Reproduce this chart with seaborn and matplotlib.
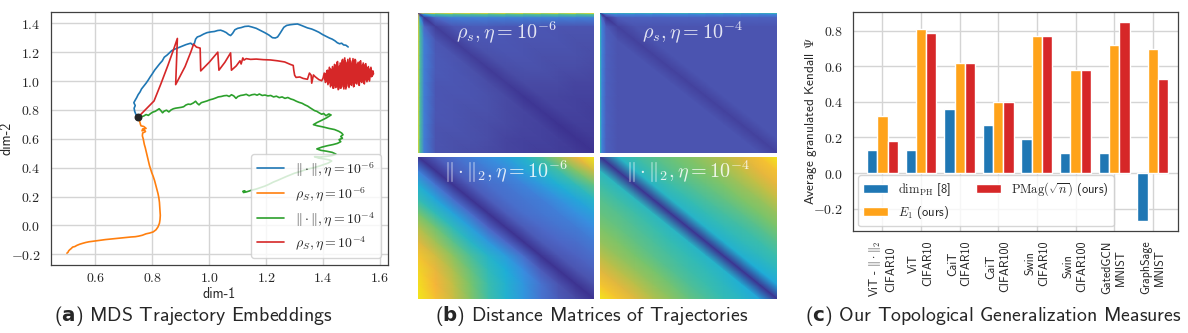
import numpy as np
import pandas as pd
import matplotlib
matplotlib.use("Agg")
import matplotlib.pyplot as plt
import seaborn as sns
from matplotlib.colors import LinearSegmentedColormap
from matplotlib.ticker import FuncFormatter, MultipleLocator

# ---------------------------------------------------------------
# (a) MDS embeddings of four optimisation trajectories
# ---------------------------------------------------------------
start_xy = (0.750, 0.750)

blue_path = [
    (0.750, 0.750), (0.742, 0.770), (0.738, 0.790), (0.736, 0.812), (0.740, 0.830), (0.735, 0.850),
    (0.740, 0.868), (0.745, 0.885), (0.750, 0.905), (0.757, 0.925), (0.762, 0.945), (0.770, 0.965),
    (0.778, 0.985), (0.785, 1.005), (0.793, 1.030), (0.800, 1.050), (0.808, 1.075), (0.816, 1.095),
    (0.826, 1.120), (0.835, 1.140), (0.842, 1.165), (0.852, 1.180), (0.860, 1.195), (0.868, 1.210),
    (0.878, 1.220), (0.888, 1.228), (0.898, 1.236), (0.908, 1.244), (0.918, 1.252), (0.928, 1.258),
    (0.935, 1.262), (0.942, 1.250), (0.948, 1.262), (0.952, 1.290), (0.958, 1.305), (0.968, 1.312),
    (0.980, 1.325), (0.992, 1.335), (1.005, 1.340), (1.018, 1.343), (1.030, 1.350), (1.040, 1.352),
    (1.050, 1.345), (1.060, 1.335), (1.068, 1.322), (1.075, 1.315), (1.082, 1.330), (1.090, 1.355),
    (1.100, 1.365), (1.112, 1.370), (1.125, 1.378), (1.138, 1.380), (1.150, 1.374), (1.165, 1.365),
    (1.180, 1.350), (1.195, 1.335), (1.210, 1.318), (1.222, 1.300), (1.232, 1.298), (1.240, 1.305),
    (1.248, 1.328), (1.255, 1.350), (1.262, 1.372), (1.272, 1.385), (1.285, 1.390), (1.298, 1.393),
    (1.310, 1.395), (1.320, 1.388), (1.330, 1.380), (1.345, 1.368), (1.360, 1.360), (1.372, 1.350),
    (1.385, 1.338), (1.398, 1.322), (1.410, 1.310), (1.422, 1.298), (1.432, 1.290), (1.442, 1.278),
    (1.450, 1.265), (1.458, 1.258), (1.465, 1.262), (1.472, 1.250), (1.480, 1.248), (1.488, 1.236),
]

orange_path = [
    (0.750, 0.750), (0.752, 0.735), (0.756, 0.718), (0.758, 0.702), (0.760, 0.690), (0.770, 0.685),
    (0.778, 0.672), (0.766, 0.668), (0.764, 0.655), (0.772, 0.662), (0.776, 0.650), (0.766, 0.640),
    (0.765, 0.620), (0.768, 0.600), (0.770, 0.580), (0.772, 0.560), (0.775, 0.540), (0.778, 0.515),
    (0.781, 0.490), (0.784, 0.465), (0.787, 0.440), (0.790, 0.415), (0.794, 0.390), (0.798, 0.365),
    (0.803, 0.340), (0.808, 0.310), (0.812, 0.280), (0.816, 0.250), (0.820, 0.220), (0.823, 0.190),
    (0.825, 0.160), (0.826, 0.130), (0.827, 0.100), (0.828, 0.070), (0.827, 0.040), (0.825, 0.015),
    (0.820, -0.010), (0.813, -0.030), (0.803, -0.045), (0.790, -0.053), (0.778, -0.058), (0.765, -0.068),
    (0.752, -0.074), (0.740, -0.078), (0.725, -0.080), (0.710, -0.083), (0.695, -0.086), (0.680, -0.089),
    (0.665, -0.092), (0.650, -0.095), (0.635, -0.098), (0.620, -0.102), (0.605, -0.106), (0.590, -0.110),
    (0.578, -0.113), (0.566, -0.118), (0.555, -0.124), (0.545, -0.130), (0.535, -0.138), (0.528, -0.146),
    (0.520, -0.150), (0.515, -0.160), (0.510, -0.168), (0.506, -0.176), (0.504, -0.185), (0.500, -0.192),
]

green_path = [
    (0.750, 0.750), (0.760, 0.752), (0.770, 0.758), (0.778, 0.768), (0.786, 0.762), (0.794, 0.775),
    (0.802, 0.785), (0.810, 0.790), (0.818, 0.800), (0.824, 0.808), (0.830, 0.795), (0.836, 0.780),
    (0.842, 0.792), (0.850, 0.798), (0.858, 0.786), (0.866, 0.800), (0.874, 0.808), (0.882, 0.812),
    (0.892, 0.815), (0.902, 0.818), (0.910, 0.822), (0.918, 0.834), (0.926, 0.840), (0.934, 0.838),
    (0.944, 0.848), (0.952, 0.860), (0.958, 0.845), (0.964, 0.835), (0.972, 0.850), (0.982, 0.856),
    (0.992, 0.862), (1.002, 0.870), (1.012, 0.875), (1.022, 0.882), (1.032, 0.890), (1.042, 0.893),
    (1.052, 0.898), (1.062, 0.900), (1.070, 0.893), (1.078, 0.905), (1.086, 0.897), (1.094, 0.880),
    (1.100, 0.892), (1.110, 0.900), (1.120, 0.903), (1.130, 0.908), (1.140, 0.898), (1.150, 0.905),
    (1.160, 0.908), (1.168, 0.902), (1.176, 0.910), (1.186, 0.900), (1.196, 0.903), (1.206, 0.897),
    (1.216, 0.900), (1.226, 0.890), (1.236, 0.895), (1.246, 0.885), (1.256, 0.890), (1.266, 0.880),
    (1.276, 0.886), (1.286, 0.876), (1.296, 0.870), (1.306, 0.860), (1.316, 0.852), (1.326, 0.846),
    (1.336, 0.835), (1.346, 0.826), (1.354, 0.815), (1.362, 0.805), (1.370, 0.795), (1.378, 0.790),
    (1.386, 0.780), (1.395, 0.770), (1.402, 0.775), (1.410, 0.760), (1.420, 0.772), (1.428, 0.765),
    (1.412, 0.745), (1.395, 0.728), (1.378, 0.712), (1.366, 0.698), (1.380, 0.690), (1.400, 0.682),
    (1.420, 0.672), (1.440, 0.664), (1.455, 0.652), (1.465, 0.640), (1.470, 0.628), (1.462, 0.616),
    (1.468, 0.604), (1.456, 0.594), (1.462, 0.580), (1.450, 0.568), (1.435, 0.560), (1.415, 0.552),
    (1.395, 0.542), (1.378, 0.530), (1.392, 0.520), (1.412, 0.514), (1.432, 0.506), (1.445, 0.494),
    (1.432, 0.484), (1.410, 0.478), (1.390, 0.474), (1.370, 0.476), (1.385, 0.466), (1.405, 0.460),
    (1.422, 0.454), (1.430, 0.446), (1.418, 0.432), (1.400, 0.420), (1.385, 0.410), (1.368, 0.400),
    (1.350, 0.392), (1.335, 0.384), (1.318, 0.372), (1.300, 0.362), (1.285, 0.350), (1.270, 0.338),
    (1.255, 0.325), (1.240, 0.312), (1.225, 0.300), (1.210, 0.285), (1.195, 0.272), (1.180, 0.262),
    (1.165, 0.252), (1.150, 0.245), (1.140, 0.238), (1.130, 0.232), (1.120, 0.228), (1.125, 0.240),
    (1.118, 0.236),
]

red_path = [
    # climb out of the initial point with large oscillating jumps
    (0.750, 0.750), (0.770, 0.790), (0.790, 0.830), (0.806, 0.862), (0.830, 0.980), (0.855, 1.110),
    (0.875, 1.220), (0.888, 1.295), (0.882, 0.975), (0.915, 1.100), (0.935, 1.200), (0.945, 1.255),
    (0.955, 1.235), (0.968, 1.228), (0.970, 1.070), (1.000, 1.130), (1.030, 1.200), (1.034, 1.075),
    (1.055, 1.130), (1.075, 1.195), (1.078, 1.075), (1.095, 1.105), (1.108, 1.140), (1.112, 1.118),
    (1.118, 1.160), (1.122, 1.145), (1.130, 1.155), (1.145, 1.150), (1.165, 1.152), (1.190, 1.148),
    (1.215, 1.146), (1.240, 1.140), (1.265, 1.132), (1.285, 1.115), (1.295, 1.108), (1.297, 1.075),
    (1.300, 1.040), (1.305, 1.025), (1.318, 1.028), (1.330, 1.018), (1.345, 1.012), (1.352, 1.055),
    (1.358, 1.040), (1.360, 0.985), (1.366, 1.042), (1.372, 1.030), (1.385, 1.010), (1.395, 1.002),
    # oscillation around the final basin
    (1.400, 1.020), (1.404, 1.055), (1.408, 0.990), (1.413, 1.070), (1.417, 0.975), (1.422, 1.095),
    (1.426, 0.960), (1.431, 1.080), (1.435, 0.950), (1.440, 1.115), (1.444, 0.955), (1.449, 1.130),
    (1.453, 0.940), (1.458, 1.105), (1.462, 0.950), (1.467, 1.145), (1.471, 0.960), (1.476, 1.160),
    (1.480, 0.945), (1.485, 1.130), (1.489, 0.965), (1.494, 1.158), (1.498, 0.975), (1.503, 1.140),
    (1.507, 0.960), (1.512, 1.150), (1.516, 0.985), (1.521, 1.120), (1.525, 0.975), (1.530, 1.135),
    (1.534, 0.995), (1.539, 1.110), (1.543, 0.985), (1.548, 1.115), (1.552, 1.005), (1.557, 1.090),
    (1.561, 1.010), (1.566, 1.085), (1.570, 1.030), (1.575, 1.070), (1.577, 1.050),
    (1.572, 1.035), (1.568, 1.095), (1.563, 1.000), (1.559, 1.100), (1.554, 0.995), (1.550, 1.120),
    (1.545, 0.980), (1.541, 1.125), (1.536, 0.990), (1.532, 1.140), (1.527, 0.970), (1.523, 1.130),
    (1.518, 0.980), (1.514, 1.145), (1.509, 0.965), (1.505, 1.155), (1.500, 0.970), (1.496, 1.135),
    (1.491, 0.955), (1.487, 1.150), (1.482, 0.960), (1.478, 1.140), (1.473, 0.945), (1.469, 1.150),
    (1.464, 0.955), (1.460, 1.125), (1.455, 0.945), (1.451, 1.135), (1.446, 0.960), (1.442, 1.110),
    (1.437, 0.950), (1.433, 1.100), (1.428, 0.970), (1.424, 1.085), (1.419, 0.985), (1.415, 1.075),
    (1.410, 0.995), (1.406, 1.050),
    (1.415, 1.010), (1.425, 1.060), (1.434, 0.990), (1.444, 1.090), (1.452, 0.985), (1.461, 1.100),
    (1.470, 0.990), (1.479, 1.110), (1.488, 1.000), (1.497, 1.105), (1.506, 1.010), (1.515, 1.100),
    (1.524, 1.015), (1.533, 1.090), (1.542, 1.020), (1.551, 1.080), (1.560, 1.030), (1.568, 1.060),
    (1.555, 1.045),
]

traj_labels = [r"$\|\cdot\|, \eta = 10^{-6}$", r"$\rho_S, \eta = 10^{-6}$",
               r"$\|\cdot\|, \eta = 10^{-4}$", r"$\rho_S, \eta = 10^{-4}$"]
traj_colors = ["#1f77b4", "#ff7f0e", "#2ca02c", "#d62728"]

# ---------------------------------------------------------------
# (b) distance matrices (normalised levels sampled at the given steps)
# ---------------------------------------------------------------
pos_rho = [0.0, 0.012, 0.035, 0.1, 0.2, 0.3, 0.4, 0.5, 0.6, 0.7, 0.8, 0.9, 1.0]
pos_l2 = [0.0, 0.1, 0.2, 0.3, 0.4, 0.5, 0.6, 0.7, 0.8, 0.9, 1.0]

rho_e6 = [
    [0.00, 0.80, 0.90, 0.94, 0.95, 0.95, 0.95, 0.96, 0.96, 0.96, 0.97, 0.97, 0.97],
    [0.80, 0.00, 0.28, 0.48, 0.50, 0.50, 0.50, 0.50, 0.50, 0.50, 0.50, 0.50, 0.50],
    [0.90, 0.28, 0.00, 0.16, 0.21, 0.21, 0.21, 0.21, 0.21, 0.21, 0.21, 0.21, 0.21],
    [0.94, 0.48, 0.16, 0.03, 0.10, 0.11, 0.11, 0.10, 0.10, 0.10, 0.09, 0.09, 0.09],
    [0.95, 0.50, 0.21, 0.10, 0.03, 0.09, 0.10, 0.10, 0.09, 0.09, 0.09, 0.08, 0.08],
    [0.95, 0.50, 0.21, 0.11, 0.09, 0.03, 0.08, 0.09, 0.09, 0.08, 0.08, 0.08, 0.07],
    [0.95, 0.50, 0.21, 0.11, 0.10, 0.08, 0.02, 0.07, 0.08, 0.08, 0.07, 0.07, 0.06],
    [0.96, 0.50, 0.21, 0.10, 0.10, 0.09, 0.07, 0.02, 0.06, 0.06, 0.06, 0.05, 0.05],
    [0.96, 0.50, 0.21, 0.10, 0.09, 0.09, 0.08, 0.06, 0.01, 0.05, 0.05, 0.04, 0.04],
    [0.96, 0.50, 0.21, 0.10, 0.09, 0.08, 0.08, 0.06, 0.05, 0.01, 0.04, 0.04, 0.03],
    [0.97, 0.50, 0.21, 0.09, 0.09, 0.08, 0.07, 0.06, 0.05, 0.04, 0.00, 0.03, 0.03],
    [0.97, 0.50, 0.21, 0.09, 0.08, 0.08, 0.07, 0.05, 0.04, 0.04, 0.03, 0.00, 0.02],
    [0.97, 0.50, 0.21, 0.09, 0.08, 0.07, 0.06, 0.05, 0.04, 0.03, 0.03, 0.02, 0.00],
]

rho_e4 = [
    [0.00, 0.38, 0.45, 0.46, 0.46, 0.46, 0.46, 0.46, 0.46, 0.46, 0.46, 0.46, 0.46],
    [0.38, 0.00, 0.16, 0.22, 0.22, 0.22, 0.22, 0.22, 0.22, 0.22, 0.22, 0.22, 0.22],
    [0.45, 0.16, 0.00, 0.12, 0.13, 0.13, 0.13, 0.13, 0.13, 0.13, 0.13, 0.13, 0.13],
    [0.46, 0.22, 0.12, 0.04, 0.09, 0.09, 0.09, 0.09, 0.09, 0.09, 0.09, 0.09, 0.09],
    [0.46, 0.22, 0.13, 0.09, 0.04, 0.09, 0.09, 0.09, 0.09, 0.09, 0.09, 0.09, 0.09],
    [0.46, 0.22, 0.13, 0.09, 0.09, 0.04, 0.09, 0.09, 0.09, 0.09, 0.09, 0.09, 0.09],
    [0.46, 0.22, 0.13, 0.09, 0.09, 0.09, 0.04, 0.09, 0.09, 0.09, 0.09, 0.09, 0.09],
    [0.46, 0.22, 0.13, 0.09, 0.09, 0.09, 0.09, 0.04, 0.09, 0.09, 0.09, 0.09, 0.09],
    [0.46, 0.22, 0.13, 0.09, 0.09, 0.09, 0.09, 0.09, 0.04, 0.09, 0.09, 0.09, 0.09],
    [0.46, 0.22, 0.13, 0.09, 0.09, 0.09, 0.09, 0.09, 0.09, 0.04, 0.09, 0.09, 0.09],
    [0.46, 0.22, 0.13, 0.09, 0.09, 0.09, 0.09, 0.09, 0.09, 0.09, 0.04, 0.09, 0.09],
    [0.46, 0.22, 0.13, 0.09, 0.09, 0.09, 0.09, 0.09, 0.09, 0.09, 0.09, 0.04, 0.09],
    [0.46, 0.22, 0.13, 0.09, 0.09, 0.09, 0.09, 0.09, 0.09, 0.09, 0.09, 0.09, 0.04],
]

l2_e6 = [
    [0.00, 0.12, 0.17, 0.21, 0.25, 0.30, 0.38, 0.50, 0.66, 0.84, 1.00],
    [0.22, 0.00, 0.12, 0.17, 0.20, 0.23, 0.30, 0.38, 0.48, 0.60, 0.74],
    [0.36, 0.19, 0.00, 0.12, 0.17, 0.19, 0.22, 0.28, 0.35, 0.44, 0.54],
    [0.46, 0.32, 0.17, 0.00, 0.12, 0.17, 0.19, 0.21, 0.26, 0.32, 0.40],
    [0.58, 0.45, 0.31, 0.17, 0.00, 0.12, 0.17, 0.19, 0.21, 0.25, 0.30],
    [0.70, 0.57, 0.44, 0.30, 0.15, 0.00, 0.11, 0.16, 0.18, 0.20, 0.24],
    [0.80, 0.66, 0.53, 0.40, 0.28, 0.16, 0.00, 0.11, 0.15, 0.17, 0.20],
    [0.90, 0.76, 0.62, 0.50, 0.39, 0.29, 0.17, 0.00, 0.10, 0.14, 0.17],
    [0.95, 0.82, 0.68, 0.55, 0.44, 0.34, 0.24, 0.12, 0.00, 0.09, 0.13],
    [0.98, 0.85, 0.72, 0.58, 0.47, 0.37, 0.27, 0.18, 0.09, 0.00, 0.08],
    [1.00, 0.88, 0.74, 0.60, 0.48, 0.37, 0.27, 0.18, 0.11, 0.06, 0.00],
]

l2_e4 = [
    [0.00, 0.40, 0.48, 0.52, 0.56, 0.60, 0.65, 0.71, 0.79, 0.89, 1.00],
    [0.42, 0.00, 0.40, 0.48, 0.52, 0.56, 0.60, 0.65, 0.72, 0.81, 0.89],
    [0.48, 0.42, 0.00, 0.40, 0.47, 0.51, 0.55, 0.59, 0.65, 0.72, 0.81],
    [0.52, 0.48, 0.42, 0.00, 0.40, 0.46, 0.50, 0.54, 0.59, 0.64, 0.72],
    [0.55, 0.52, 0.48, 0.42, 0.00, 0.39, 0.45, 0.49, 0.53, 0.58, 0.64],
    [0.59, 0.55, 0.51, 0.47, 0.41, 0.00, 0.38, 0.44, 0.48, 0.52, 0.58],
    [0.64, 0.59, 0.54, 0.50, 0.46, 0.40, 0.00, 0.37, 0.43, 0.47, 0.52],
    [0.71, 0.64, 0.58, 0.53, 0.49, 0.45, 0.39, 0.00, 0.36, 0.42, 0.47],
    [0.80, 0.71, 0.64, 0.58, 0.52, 0.48, 0.44, 0.38, 0.00, 0.34, 0.41],
    [0.90, 0.80, 0.71, 0.63, 0.57, 0.51, 0.47, 0.42, 0.35, 0.00, 0.32],
    [1.00, 0.90, 0.79, 0.69, 0.62, 0.55, 0.50, 0.45, 0.40, 0.32, 0.00],
]

matrix_labels = [r"$\rho_s, \eta = 10^{-6}$", r"$\rho_s, \eta = 10^{-4}$",
                 r"$\|\cdot\|_2, \eta = 10^{-6}$", r"$\|\cdot\|_2, \eta = 10^{-4}$"]

# ---------------------------------------------------------------
# (c) topological generalisation measures
# ---------------------------------------------------------------
models = ["ViT - $\\|\\cdot\\|_2$\nCIFAR10", "ViT\nCIFAR10", "CaiT\nCIFAR10", "CaiT\nCIFAR100",
          "Swin\nCIFAR10", "Swin\nCIFAR100", "GatedGCN\nMNIST", "GraphSage\nMNIST"]
dim_ph = [0.13, 0.13, 0.36, 0.27, 0.19, 0.11, 0.11, -0.27]
e1 = [0.32, 0.81, 0.62, 0.40, 0.77, 0.58, 0.72, 0.70]
pmag = [0.18, 0.79, 0.62, 0.40, 0.77, 0.58, 0.85, 0.53]
measures = [r"$\mathrm{dim}_{\mathrm{PH}}$ [8]", r"$E_1$ (ours)",
            r"$\mathrm{PMag}(\sqrt{n})$ (ours)"]
measure_colors = ["#1f77b4", "#ffa31a", "#d62728"]

# ---------------------------------------------------------------
sns.set_theme(style="whitegrid", rc={"axes.edgecolor": "0.25", "axes.linewidth": 0.9,
                                     "grid.color": "0.83", "grid.linewidth": 1.0})
plt.rcParams["font.family"] = ["cmss10", "DejaVu Sans"]
plt.rcParams["mathtext.fontset"] = "cm"
plt.rcParams["axes.unicode_minus"] = True

fig = plt.figure(figsize=(11.88, 3.33), dpi=100)
W, H = 1188.0, 333.0


def add_axes_px(left, top, right, bottom):
    return fig.add_axes([left / W, 1 - bottom / H, (right - left) / W, (bottom - top) / H])


math_fmt = FuncFormatter(lambda v, _: f"${v:.1f}$")

# ---- (a) ----
ax_a = add_axes_px(51, 12, 388, 265)
paths = [blue_path, orange_path, green_path, red_path]
for path, lab, col in zip(paths, traj_labels, traj_colors):
    xs, ys = zip(*path)
    sns.lineplot(x=list(xs), y=list(ys), sort=False, estimator=None, color=col, lw=1.2,
                 label=lab, ax=ax_a)
ax_a.scatter([start_xy[0]], [start_xy[1]], s=22, color="0.15", zorder=5)
ax_a.set_xlim(0.444, 1.628)
ax_a.set_ylim(-0.274, 1.478)
ax_a.xaxis.set_major_locator(MultipleLocator(0.2))
ax_a.yaxis.set_major_locator(MultipleLocator(0.2))
ax_a.xaxis.set_major_formatter(math_fmt)
ax_a.yaxis.set_major_formatter(math_fmt)
ax_a.tick_params(labelsize=10)
ax_a.tick_params(axis="x", pad=-2)
ax_a.tick_params(axis="y", pad=1.5)
ax_a.set_xlabel("dim-1", fontsize=10)
ax_a.set_ylabel("dim-2", fontsize=10)
ax_a.xaxis.set_label_coords(0.5, -0.088)
ax_a.yaxis.set_label_coords(-0.11, 0.5)
ax_a.legend(loc="lower right", fontsize=10, framealpha=0.8, handlelength=2.0,
            borderaxespad=0.5)

# ---- (b) ----
parula_like = LinearSegmentedColormap.from_list("parula_like", [
    (0.00, "#3d3391"), (0.07, "#4a4ea8"), (0.15, "#4d66c6"), (0.24, "#3a8ce0"),
    (0.34, "#1eaed8"), (0.46, "#35bcb2"), (0.58, "#78c46c"), (0.72, "#c0bf46"),
    (0.85, "#f6b43a"), (1.00, "#f2e61b")])


def grid_triangles(n):
    # split every cell along its main-diagonal direction
    tris = []
    for i in range(n - 1):
        for j in range(n - 1):
            a, b = i * n + j, i * n + j + 1
            c, d = (i + 1) * n + j, (i + 1) * n + j + 1
            tris.append([a, b, d])
            tris.append([a, c, d])
    return np.array(tris)


panel_boxes = [(418, 13, 594, 153), (600, 13, 777, 153), (418, 157, 594, 299), (600, 157, 777, 299)]
panel_data = [(pos_rho, rho_e6), (pos_rho, rho_e4), (pos_l2, l2_e6), (pos_l2, l2_e4)]
label_y = [0.857, 0.857, 0.894, 0.894]
label_x = [0.5, 0.52, 0.5, 0.5]
for box, (pos, grid), lab, lx, ly in zip(panel_boxes, panel_data, matrix_labels, label_x, label_y):
    ax = add_axes_px(*box)
    p = np.asarray(pos, float)
    A = np.asarray(grid, float)
    n = len(p)
    cols, rows = np.meshgrid(p, p)
    ax.tripcolor(cols.ravel(), rows.ravel(), A.ravel(), triangles=grid_triangles(n),
                 shading="gouraud", cmap=parula_like, vmin=0, vmax=1)
    ax.set_xlim(0, 1)
    ax.set_ylim(1, 0)
    ax.set_axis_off()
    ax.text(lx, ly, lab, transform=ax.transAxes, ha="center", va="center",
            color="white", alpha=0.85, fontsize=14.5)

# ---- (c) ----
ax_c = add_axes_px(853, 12, 1178, 231)
df = pd.DataFrame({
    "model": models * 3,
    "measure": [m for m in measures for _ in models],
    "value": dim_ph + e1 + pmag,
})
sns.barplot(data=df, x="model", y="value", hue="measure", hue_order=measures,
            palette=measure_colors, saturation=1, width=0.8, ax=ax_c)
ax_c.set_xlim(-0.76, 7.65)
ax_c.set_ylim(-0.326, 0.906)
ax_c.yaxis.set_major_locator(MultipleLocator(0.2))
ax_c.yaxis.set_major_formatter(math_fmt)
ax_c.xaxis.grid(True)
ax_c.set_axisbelow(True)
ax_c.tick_params(axis="both", length=3.5, width=0.8, color="0.25")
ax_c.tick_params(axis="y", labelsize=10)
ax_c.tick_params(axis="x", labelsize=8.6, rotation=90)
ax_c.set_xlabel("")
ax_c.set_ylabel(r"Average granulated Kendall $\Psi$", fontsize=9.5)
ax_c.yaxis.set_label_coords(-0.105, 0.5)
handles, labels = ax_c.get_legend_handles_labels()
ax_c.legend(handles, labels, loc="lower left", ncol=2, fontsize=9,
            handlelength=2.0, framealpha=0.8, borderaxespad=0.4)

# ---- captions ----
captions = [(193, r"($\mathbf{a}$) MDS Trajectory Embeddings"),
            (592, r"($\mathbf{b}$) Distance Matrices of Trajectories"),
            (993, r"($\mathbf{c}$) Our Topological Generalization Measures")]
for cx, txt in captions:
    fig.text(cx / W, 1 - 316 / H, txt, ha="center", va="center", fontsize=14.3,
             math_fontfamily="dejavusans")

fig.savefig("out.png", dpi=100)
